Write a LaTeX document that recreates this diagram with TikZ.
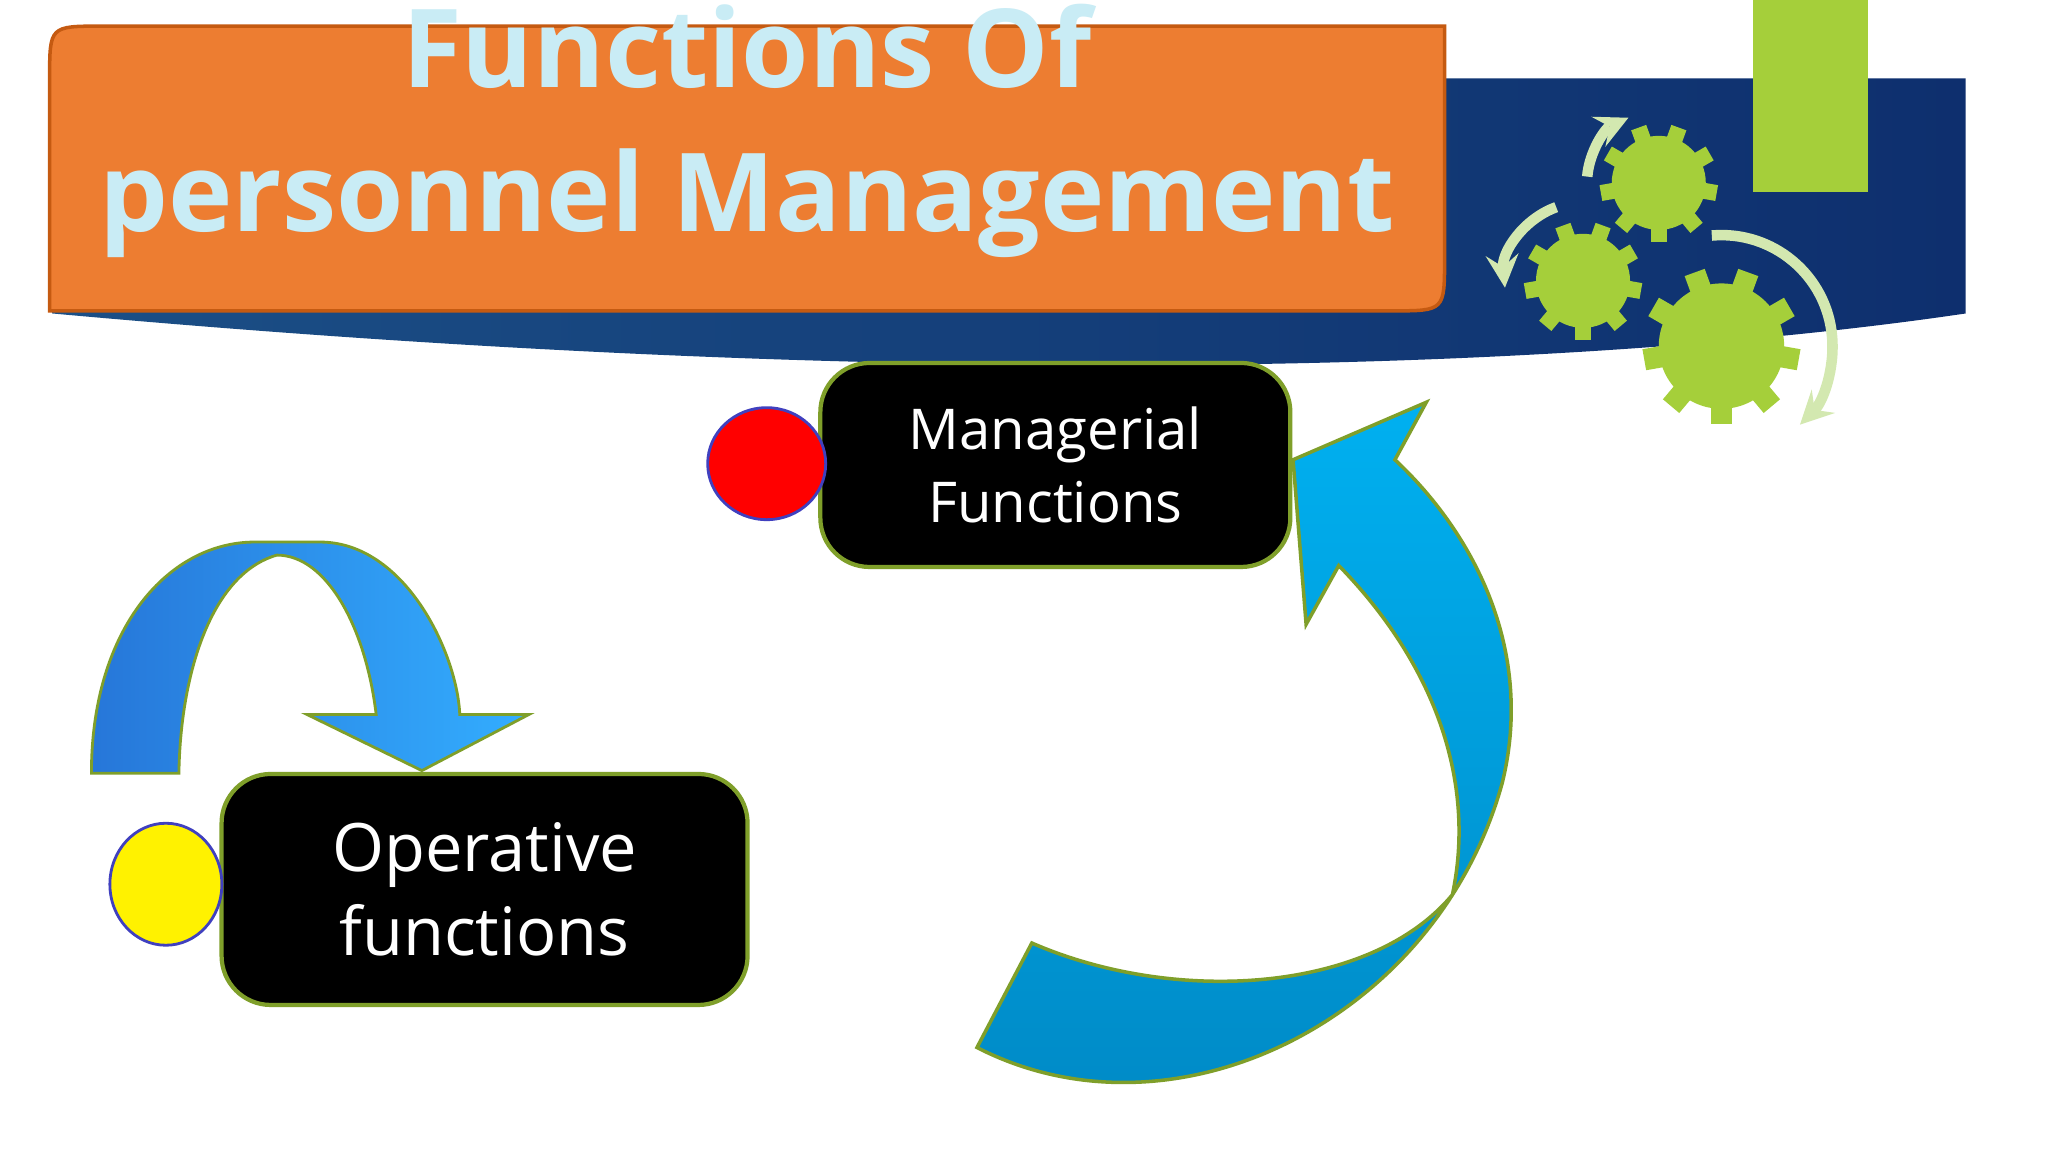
\documentclass[tikz,border=0pt]{standalone}
\usepackage{fontspec}
\setmainfont{Open Sans}
\usetikzlibrary{positioning,shapes.geometric}
\definecolor{orangebox}{HTML}{ED7D31}
\definecolor{orangeedge}{HTML}{C55A11}
\definecolor{titletext}{HTML}{C9ECF5}
\definecolor{leaf}{HTML}{A5CF3A}
\definecolor{leaflight}{HTML}{D3E8B0}
\definecolor{skyblue}{HTML}{00B0F0}
\definecolor{deepblue}{HTML}{0088C4}
\definecolor{olive}{HTML}{7F9F2A}
\definecolor{bannerleft}{HTML}{1B4F86}
\definecolor{bannermid}{HTML}{2F88B3}
\definecolor{bannerright}{HTML}{0E2F6E}
\tikzset{
  func/.style={draw=olive,line width=1.2pt,fill=black,rounded corners=14pt,text=white,align=center},
  dot/.style={ellipse,draw=blue!50!gray,line width=0.8pt},
  gear/.style={fill=leaf},
  turn/.style={leaflight,line width=3pt,->,>=stealth}
}
\newcommand{\gearat}[3]{% centre x, centre y, radius
  \fill[gear] (#1,#2) circle (#3);
  \foreach \a in {0,40,...,320}
    \fill[gear,shift={(#1,#2)},rotate=\a] (-0.17*#3,0) rectangle (0.17*#3,1.25*#3);
}
\begin{document}
\begin{tikzpicture}[x=0.01306cm,y=-0.01306cm]
\useasboundingbox (0,0) rectangle (1568,882);
\fill[white] (0,0) rectangle (1568,882);
% banner
\shade[left color=bannerleft,middle color=bannermid,right color=bannerright]
  (40,60) -- (1505,60) -- (1505,240) .. controls (1200,285) and (700,300) .. (40,240) -- cycle;
\fill[leaf] (1342,0) rectangle (1430,147);
% gears
\gearat{1270}{140}{36}
\gearat{1212}{215}{36}
\gearat{1318}{265}{48}
\draw[turn] (1270,140) ++(185:55) arc[start angle=185,end angle=245,radius=55];
\draw[turn] (1212,215) ++(250:60) arc[start angle=250,end angle=175,radius=60];
\draw[turn] (1318,265) ++(-95:85) arc[start angle=-95,end angle=45,radius=85];
% title box
\draw[fill=orangebox,draw=orangeedge,line width=1pt]
  (38,238) -- (38,60) .. controls (38,20) .. (78,20) -- (1106,20)
  -- (1106,198) .. controls (1106,238) .. (1066,238) -- cycle;
\node[font=\fontsize{31}{35}\bfseries\selectfont,text=titletext,align=center] (title) at (572,100)
  {Functions Of\\[6pt]personnel Management};
% big return arrow
\shade[top color=skyblue,bottom color=deepblue,draw=olive,line width=1pt]
  (748,802) .. controls (900,880) and (1100,780) .. (1150,600)
  .. controls (1175,500) and (1130,410) .. (1068,352) -- (1092,308) -- (990,352) -- (1000,478)
  -- (1025,433) .. controls (1100,510) and (1130,600) .. (1112,685)
  .. controls (1050,760) and (900,770) .. (790,722) -- cycle;
% small u-turn arrow
\shade[left color=blue!55!cyan!70!gray,right color=blue!40!cyan!80,draw=olive,line width=0.8pt]
  (70,592) .. controls (70,480) and (130,415) .. (195,415) -- (245,415)
  .. controls (310,415) and (350,500) .. (352,547) -- (405,547) -- (323,590) -- (235,547)
  -- (288,547) .. controls (280,480) and (250,425) .. (212,425)
  .. controls (160,440) and (138,520) .. (137,592) -- cycle;
% function boxes
\node[func,minimum width=4.7cm,minimum height=2.04cm,font=\fontsize{16}{21}\selectfont] (managerial) at (808,356)
  {Managerial\\Functions};
\node[func,minimum width=5.26cm,minimum height=2.31cm,font=\fontsize{19}{24}\selectfont] (operative) at (371,681)
  {Operative\\functions};
\node[dot,fill=red,minimum width=1.18cm,minimum height=1.12cm] (reddot) at (587,355) {};
\node[dot,fill=yellow,minimum width=1.12cm,minimum height=1.22cm] (yellowdot) at (127,677) {};
\end{tikzpicture}
\end{document}
